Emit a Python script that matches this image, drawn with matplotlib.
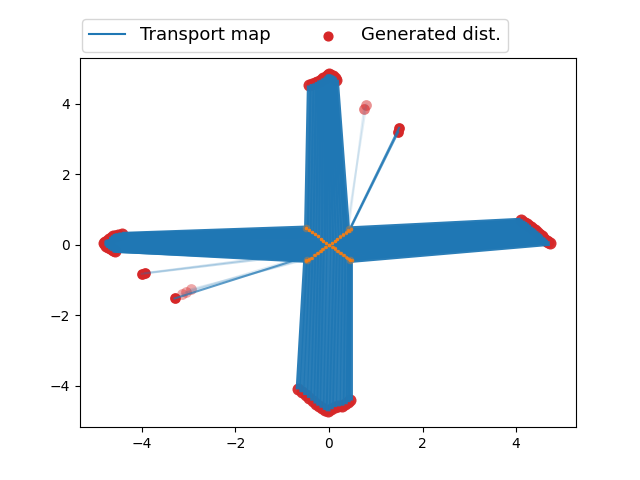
import matplotlib
matplotlib.use('Agg')
import matplotlib.pyplot as plt

# source points on the X in the middle, and where they end up on each arm
top_src_x = [-0.48, -0.42, -0.36, -0.30, -0.24, -0.18, -0.12, -0.06, 0.0, 0.06, 0.12, 0.18, 0.24, 0.30, 0.36, 0.40]
top_src_y = [0.48, 0.42, 0.36, 0.30, 0.24, 0.18, 0.12, 0.06, 0.0, 0.06, 0.12, 0.18, 0.24, 0.30, 0.36, 0.42]
top_gen_x = [-0.42, -0.36, -0.30, -0.25, -0.20, -0.16, -0.12, -0.08, -0.05, -0.02, 0.0, 0.03, 0.06, 0.09, 0.12, 0.16]
top_gen_y = [4.52, 4.56, 4.58, 4.62, 4.66, 4.68, 4.72, 4.74, 4.78, 4.82, 4.84, 4.82, 4.80, 4.78, 4.74, 4.68]

bottom_src_x = [-0.50, -0.44, -0.38, -0.32, -0.26, -0.20, -0.14, -0.08, 0.0, 0.08, 0.14, 0.20, 0.26, 0.32, 0.38, 0.44, 0.46]
bottom_src_y = [-0.46, -0.42, -0.36, -0.30, -0.24, -0.18, -0.12, -0.06, 0.0, -0.06, -0.12, -0.18, -0.24, -0.30, -0.36, -0.42, -0.44]
bottom_gen_x = [-0.66, -0.58, -0.50, -0.42, -0.35, -0.28, -0.22, -0.15, -0.08, -0.02, 0.05, 0.12, 0.20, 0.28, 0.35, 0.41, 0.46]
bottom_gen_y = [-4.10, -4.18, -4.26, -4.34, -4.42, -4.50, -4.56, -4.62, -4.68, -4.72, -4.66, -4.60, -4.58, -4.56, -4.52, -4.46, -4.40]

right_src_x = [0.48, 0.42, 0.36, 0.30, 0.24, 0.18, 0.12, 0.06, 0.0, 0.06, 0.12, 0.18, 0.24, 0.30, 0.36, 0.42, 0.50]
right_src_y = [0.46, 0.40, 0.34, 0.28, 0.22, 0.16, 0.10, 0.05, 0.0, -0.05, -0.10, -0.16, -0.22, -0.28, -0.34, -0.40, -0.44]
right_gen_x = [4.10, 4.15, 4.20, 4.24, 4.28, 4.32, 4.36, 4.40, 4.44, 4.48, 4.52, 4.55, 4.58, 4.62, 4.65, 4.68, 4.72]
right_gen_y = [0.70, 0.66, 0.62, 0.58, 0.54, 0.50, 0.45, 0.41, 0.37, 0.32, 0.28, 0.24, 0.20, 0.15, 0.12, 0.08, 0.04]

left_src_x = [-0.48, -0.42, -0.36, -0.30, -0.24, -0.18, -0.12, -0.06, 0.0, -0.06, -0.12, -0.18, -0.24, -0.30, -0.36, -0.42, -0.50]
left_src_y = [0.48, 0.42, 0.36, 0.30, 0.24, 0.18, 0.12, 0.06, 0.0, -0.06, -0.12, -0.18, -0.24, -0.30, -0.36, -0.40, -0.44]
left_gen_x = [-4.42, -4.50, -4.58, -4.62, -4.66, -4.70, -4.74, -4.78, -4.80, -4.78, -4.76, -4.72, -4.68, -4.64, -4.60, -4.58, -4.62]
left_gen_y = [0.30, 0.28, 0.26, 0.24, 0.20, 0.16, 0.12, 0.08, 0.05, 0.02, -0.02, -0.06, -0.10, -0.12, -0.14, -0.16, -0.15]

# the few points that went astray
stray_src_x = [0.38, 0.42, 0.44, 0.46, -0.50, -0.48, -0.50, -0.46, -0.48, -0.44]
stray_src_y = [0.42, 0.46, 0.44, 0.46, -0.22, -0.26, -0.34, -0.30, -0.38, -0.40]
stray_gen_x = [0.80, 0.75, 1.50, 1.48, -3.93, -4.00, -3.30, -3.05, -3.15, -2.95]
stray_gen_y = [3.98, 3.86, 3.32, 3.20, -0.80, -0.82, -1.52, -1.34, -1.40, -1.26]
stray_line_alpha = [0.12, 0.12, 0.8, 0.8, 0.2, 0.25, 0.7, 0.15, 0.15, 0.15]
stray_dot_alpha = [0.5, 0.6, 1.0, 1.0, 1.0, 1.0, 1.0, 0.4, 0.4, 0.4]

arm_edge_x = [-0.50, -0.46, 0.42, 0.46]
arm_edge_y = [0.48, -0.44, 0.44, -0.42]

plt.figure(figsize=(6.4, 4.8))

src_x = top_src_x + bottom_src_x + right_src_x + left_src_x
src_y = top_src_y + bottom_src_y + right_src_y + left_src_y
gen_x = top_gen_x + bottom_gen_x + right_gen_x + left_gen_x
gen_y = top_gen_y + bottom_gen_y + right_gen_y + left_gen_y

# generated points sit under the lines
plt.scatter(gen_x, gen_y, s=75, color='C3', alpha=0.95, linewidths=0, zorder=1)
for i in range(len(stray_gen_x)):
    plt.scatter(stray_gen_x[i], stray_gen_y[i], s=60, color='C3', alpha=stray_dot_alpha[i], linewidths=0, zorder=1)

for i in range(len(src_x)):
    plt.plot([src_x[i], gen_x[i]], [src_y[i], gen_y[i]], color='C0', lw=3.5, alpha=0.95,
             solid_capstyle='butt', zorder=2)
for i in range(len(stray_src_x)):
    plt.plot([stray_src_x[i], stray_gen_x[i]], [stray_src_y[i], stray_gen_y[i]], color='C0', lw=1.5,
             alpha=stray_line_alpha[i], zorder=2)

# the X itself shows through the lines
plt.scatter(src_x, src_y, s=6, color='C1', alpha=0.75, linewidths=0, zorder=3)
plt.scatter(arm_edge_x, arm_edge_y, s=30, color='C1', alpha=0.35, linewidths=0, zorder=3)

# dummy handles so the legend keeps normal sizes
plt.plot([], [], color='C0', label='Transport map')
plt.scatter([], [], s=40, color='C3', label='Generated dist.')

plt.xlim(-5.32, 5.28)
plt.ylim(-5.17, 5.31)
plt.xticks([-4, -2, 0, 2, 4])
plt.yticks([-4, -2, 0, 2, 4])
plt.legend(loc='lower left', bbox_to_anchor=(0.004, 1.016), ncol=2, fontsize=13,
           borderaxespad=0, columnspacing=2.2)
plt.savefig('out.png', dpi=100)
